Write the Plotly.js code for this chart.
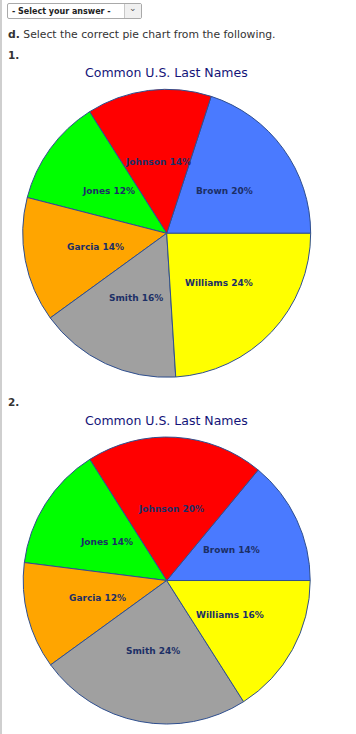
<!DOCTYPE html>
<html>
<head>
<meta charset="utf-8">
<script src="https://cdn.plot.ly/plotly-3.0.1.min.js"></script>
<style>
  html, body { margin: 0; padding: 0; background: #fff; }
  body { width: 356px; height: 734px; position: relative; overflow: hidden; font-family: "DejaVu Sans", Verdana, sans-serif; }
  #border { position: absolute; left: 0; top: 0; width: 2px; height: 734px; background: #cfcfcf; z-index: 3; }
  #plot { position: absolute; left: 0; top: 0; width: 356px; height: 734px; }
  .ov { position: absolute; z-index: 2; color: #333; }
  #sel { left: 7px; top: 3px; width: 135px; height: 16px; border: 1px solid #a9a9a9; border-radius: 2px; background: #fff; box-sizing: border-box; }
  #sel .t { position: absolute; left: 4px; top: 1px; font-size: 8px; font-weight: bold; color: #222; line-height: 13px; }
  #sel .b { position: absolute; right: 0; top: 0; width: 16px; height: 14px; border-left: 1px solid #c8c8c8; background: #f0f0f0; }
  #sel .b span { position: absolute; left: 4px; top: -1px; font-size: 9px; color: #555; }
  #q { left: 8px; top: 28px; font-size: 10.8px; white-space: nowrap; }
  #n1 { left: 8px; top: 49px; font-size: 10.5px; font-weight: bold; }
  #n2 { left: 8px; top: 396px; font-size: 10.5px; font-weight: bold; }
</style>
</head>
<body>
<div id="border"></div>
<div id="plot"></div>
<div class="ov" id="sel"><div class="t">- Select your answer -</div><div class="b"><span>&#8964;</span></div></div>
<div class="ov" id="q"><b>d.</b> Select the correct pie chart from the following.</div>
<div class="ov" id="n1">1.</div>
<div class="ov" id="n2">2.</div>
<script>
const chartTitle = "Common U.S. Last Names";
const names1 = ["Brown", "Johnson", "Jones", "Garcia", "Smith", "Williams"];
const values1 = [20, 14, 12, 14, 16, 24];
const colors1 = ["#4a7aff", "#ff0000", "#00ff00", "#ffa500", "#a0a0a0", "#ffff00"];

const names2 = ["Brown", "Johnson", "Jones", "Garcia", "Smith", "Williams"];
const values2 = [14, 20, 14, 12, 24, 16];
const colors2 = ["#4a7aff", "#ff0000", "#00ff00", "#ffa500", "#a0a0a0", "#ffff00"];

const W = 356, H = 734;
const domX = [0.0638, 0.8727];
const domY1 = [0.486, 0.8783];
const domY2 = [0.0136, 0.4046];
const labelFont = { family: "DejaVu Sans, Verdana, sans-serif", size: 9, color: "#1c2f66", weight: "bold" };

function pieTrace(names, values, colors, domainY) {
  const total = values.reduce((a, b) => a + b, 0);
  return {
    type: "pie",
    labels: names,
    values: values,
    sort: false,
    direction: "counterclockwise",
    rotation: 90 - values[0] / total * 360,
    marker: { colors: colors, line: { color: "#2f4f8f", width: 1 } },
    textinfo: "none",
    hoverinfo: "none",
    showlegend: false,
    domain: { x: domX, y: domainY }
  };
}

// slice labels at half radius on each slice's mid-angle (slices run counterclockwise from 3 o'clock)
function sliceLabels(names, values, domainY) {
  const total = values.reduce((a, b) => a + b, 0);
  const cx = (domX[0] + domX[1]) / 2 * W;
  const cy = (1 - (domainY[0] + domainY[1]) / 2) * H;
  const R = Math.min((domX[1] - domX[0]) * W, (domainY[1] - domainY[0]) * H) / 2;
  let cum = 0;
  return names.map((n, i) => {
    const th = (cum + values[i] / 2) / total * 2 * Math.PI;
    cum += values[i];
    const px = cx + 0.5 * R * Math.cos(th);
    const py = cy - 0.5 * R * Math.sin(th);
    return {
      text: n + " " + values[i] + "%",
      xref: "paper", yref: "paper",
      x: px / W, y: 1 - py / H,
      xanchor: "center", yanchor: "middle",
      showarrow: false, font: labelFont
    };
  });
}

const data = [
  pieTrace(names1, values1, colors1, domY1),
  pieTrace(names2, values2, colors2, domY2)
];

const titleFont = { family: "DejaVu Sans, Verdana, sans-serif", size: 12.5, color: "#141478" };
const layout = {
  width: W,
  height: H,
  margin: { l: 0, r: 0, t: 0, b: 0 },
  paper_bgcolor: "#ffffff",
  showlegend: false,
  annotations: [
    { text: chartTitle, xref: "paper", yref: "paper", x: 0.468, y: 1 - 73 / H, xanchor: "center", yanchor: "middle", showarrow: false, font: titleFont },
    { text: chartTitle, xref: "paper", yref: "paper", x: 0.468, y: 1 - 420 / H, xanchor: "center", yanchor: "middle", showarrow: false, font: titleFont }
  ].concat(sliceLabels(names1, values1, domY1), sliceLabels(names2, values2, domY2))
};

Plotly.newPlot("plot", data, layout, { staticPlot: true, displayModeBar: false });
</script>
</body>
</html>
